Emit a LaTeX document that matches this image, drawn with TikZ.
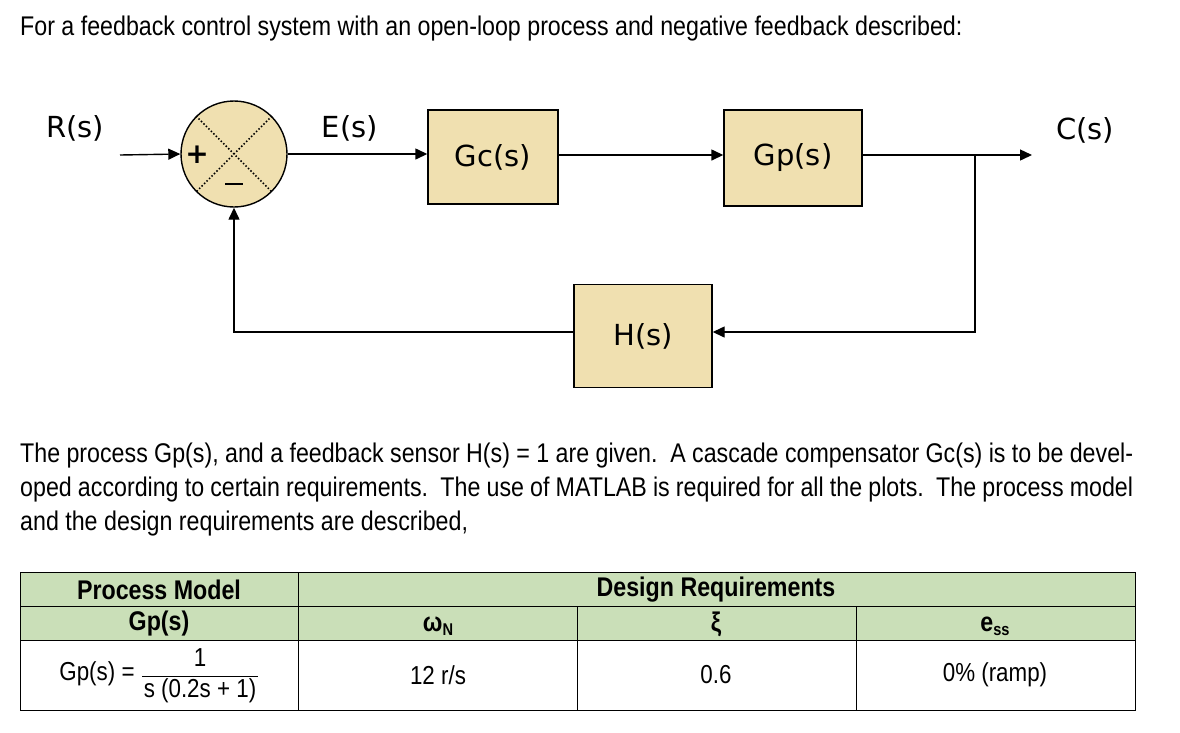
\documentclass[tikz,border=0pt]{standalone}
\usepackage{fontspec}
\setmainfont{Liberation Sans}
\newfontfamily\narrow{Liberation Sans}[FakeStretch=0.86]
\newfontfamily\blk{DejaVu Sans}
\usetikzlibrary{arrows.meta}
\definecolor{boxfill}{HTML}{F0E0B0}
\definecolor{hdr}{HTML}{CADFB8}
\begin{document}
\begin{tikzpicture}[x=1pt,y=-1pt,
  blk/.style={draw,line width=1.4pt,fill=boxfill,inner sep=0pt,font=\blk\fontsize{29}{29}\selectfont},
  lab/.style={font=\blk\fontsize{29}{29}\selectfont,inner sep=0pt},
  sig/.style={line width=1.4pt,-{Triangle[length=12pt,width=11pt]}},
  txt/.style={font=\narrow\fontsize{27}{34}\selectfont,inner sep=0pt,anchor=north west},
  cell/.style={font=\narrow\fontsize{26}{26}\selectfont,inner sep=0pt},
  bcell/.style={font=\narrow\bfseries\fontsize{27}{27}\selectfont,inner sep=0pt}]
\useasboundingbox (0,0) rectangle (1180,732);
\node[txt] (title) at (20,16) {For a feedback control system with an open-loop process and negative feedback described:};
% diagram
\node[draw,circle,line width=1.4pt,fill=boxfill,minimum size=106pt,inner sep=0pt] (sum) at (234,154) {};
\draw[dotted,line width=1.5pt] (sum.45) -- (sum.225) (sum.135) -- (sum.315);
\node[font=\blk\bfseries\fontsize{28}{28}\selectfont] (plus) at (197,155) {+};
\draw[line width=2.5pt] (225,184) -- (243,184);
\node[blk,minimum width=130pt,minimum height=94pt] (gc) at (493,157) {Gc(s)};
\node[blk,minimum width=138pt,minimum height=96pt] (gp) at (793,158) {Gp(s)};
\node[blk,minimum width=138pt,minimum height=103pt] (h) at (643,336) {H(s)};
\node[lab] (r) at (75,128) {R(s)};
\node[lab] (e) at (350,128) {E(s)};
\node[lab] (c) at (1085,130) {C(s)};
\coordinate (rin) at (120,155);
\coordinate (cout) at (1032,155);
\coordinate (br) at (975,155);
\draw[sig] (rin) -- (sum.west);
\draw[sig] (sum.east) -- (gc.west |- sum.east);
\draw[sig] (gc.east |- 0,155) -- (gp.west |- 0,155);
\draw[sig] (gp.east |- 0,155) -- (cout);
\draw[sig] (br) |- (h.east |- 0,332);
\draw[sig] (h.west |- 0,332) -| (sum.south);
% paragraph
\node[txt,text width=1113pt,align=justify] (para) at (20,443) {The process Gp(s), and a feedback sensor H(s) = 1 are given.\ \ A cascade compensator Gc(s) is to be developed according to certain requirements.\ \ The use of MATLAB is required for all the plots.\ \ The process model and the design requirements are described,};
% table
\fill[hdr] (20,572) rectangle (1135,640);
\draw[line width=0.8pt] (20,572) rectangle (1135,710);
\draw[line width=0.8pt] (20,606) -- (1135,606) (20,640) -- (1135,640) (298,572) -- (298,710) (577,606) -- (577,710) (856,606) -- (856,710);
\node[bcell] (pm) at (159,590) {Process Model};
\node[bcell] (dr) at (716,590) {Design Requirements};
\node[bcell] (gph) at (159,624) {Gp(s)};
\node[bcell] (wn) at (438,626) {ω\raisebox{-0.3ex}{\fontsize{17}{17}\selectfont N}};
\node[bcell] (xi) at (716,624) {ξ};
\node[bcell] (ess) at (995,626) {e\raisebox{-0.3ex}{\fontsize{17}{17}\selectfont ss}};
\node[cell] (gpl) at (97,674) {Gp(s) =};
\node[cell] (num) at (200,658) {1};
\node[cell] (den) at (200,691) {s (0.2s + 1)};
\draw[line width=0.8pt] (142,676) -- (258,676);
\node[cell] (v1) at (438,675) {12 r/s};
\node[cell] (v2) at (716,675) {0.6};
\node[cell] (v3) at (995,675) {0\% (ramp)};
\end{tikzpicture}
\end{document}
